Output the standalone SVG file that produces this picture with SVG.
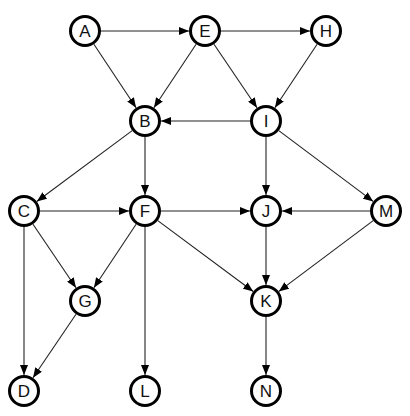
<svg xmlns="http://www.w3.org/2000/svg" width="410" height="416" viewBox="0 0 410 416">
<defs>
<style>
.n circle{fill:#fff;stroke:#000;stroke-width:3}
.n text{font-family:"Liberation Sans",Arial,sans-serif;font-size:17px;fill:#111;text-anchor:middle;dominant-baseline:central}
#edges line{stroke:#222;stroke-width:1.1;marker-end:url(#ah)}
</style>
<marker id="ah" markerUnits="userSpaceOnUse" markerWidth="10" markerHeight="8" refX="10" refY="4" orient="auto">
<path d="M0,0 L10,4 L0,8 z" fill="#000"/>
</marker>
</defs>
<rect width="410" height="416" fill="#fff"/>
<g id="edges">
<line x1="101" y1="31" x2="189" y2="31"/>
<line x1="221" y1="31" x2="310" y2="31"/>
<line x1="93.9" y1="44.3" x2="136.1" y2="107.7"/>
<line x1="196.1" y1="44.3" x2="153.9" y2="107.7"/>
<line x1="214.0" y1="44.3" x2="257.0" y2="107.8"/>
<line x1="317.1" y1="44.3" x2="274.9" y2="107.7"/>
<line x1="250" y1="121" x2="161" y2="121"/>
<line x1="132.2" y1="130.6" x2="36.8" y2="201.5"/>
<line x1="145" y1="137" x2="145" y2="195"/>
<line x1="266" y1="137" x2="266" y2="195"/>
<line x1="278.8" y1="130.6" x2="373.2" y2="201.4"/>
<line x1="40" y1="211" x2="129" y2="211"/>
<line x1="161" y1="211" x2="250" y2="211"/>
<line x1="370" y1="211" x2="282" y2="211"/>
<line x1="33.0" y1="224.3" x2="76.0" y2="287.8"/>
<line x1="24" y1="227" x2="24" y2="375"/>
<line x1="136.1" y1="224.3" x2="93.9" y2="287.7"/>
<line x1="145" y1="227" x2="145" y2="375"/>
<line x1="157.8" y1="220.6" x2="253.2" y2="291.5"/>
<line x1="76.0" y1="314.3" x2="33.0" y2="377.8"/>
<line x1="266" y1="227" x2="266" y2="285"/>
<line x1="373.2" y1="220.6" x2="278.8" y2="291.4"/>
<line x1="266" y1="317" x2="266" y2="375"/>
</g>
<g id="A" class="n"><circle cx="85" cy="31" r="14.5"/><text x="85" y="31">A</text></g>
<g id="E" class="n"><circle cx="205" cy="31" r="14.5"/><text x="205" y="31">E</text></g>
<g id="H" class="n"><circle cx="326" cy="31" r="14.5"/><text x="326" y="31">H</text></g>
<g id="B" class="n"><circle cx="145" cy="121" r="14.5"/><text x="145" y="121">B</text></g>
<g id="I" class="n"><circle cx="266" cy="121" r="14.5"/><text x="266" y="121">I</text></g>
<g id="C" class="n"><circle cx="24" cy="211" r="14.5"/><text x="24" y="211">C</text></g>
<g id="F" class="n"><circle cx="145" cy="211" r="14.5"/><text x="145" y="211">F</text></g>
<g id="J" class="n"><circle cx="266" cy="211" r="14.5"/><text x="266" y="211">J</text></g>
<g id="M" class="n"><circle cx="386" cy="211" r="14.5"/><text x="386" y="211">M</text></g>
<g id="G" class="n"><circle cx="85" cy="301" r="14.5"/><text x="85" y="301">G</text></g>
<g id="K" class="n"><circle cx="266" cy="301" r="14.5"/><text x="266" y="301">K</text></g>
<g id="D" class="n"><circle cx="24" cy="391" r="14.5"/><text x="24" y="391">D</text></g>
<g id="L" class="n"><circle cx="145" cy="391" r="14.5"/><text x="145" y="391">L</text></g>
<g id="N" class="n"><circle cx="266" cy="391" r="14.5"/><text x="266" y="391">N</text></g>
</svg>
